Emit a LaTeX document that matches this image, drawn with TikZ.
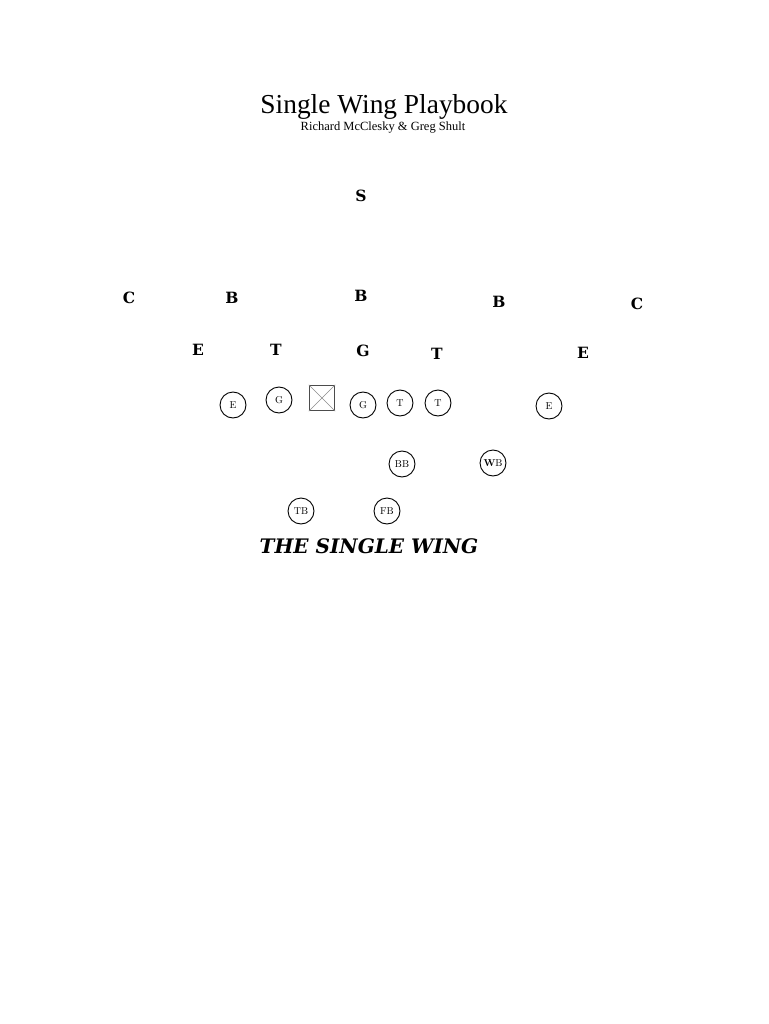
\documentclass[tikz,border=0pt]{standalone}
\usepackage{fontspec}
\newfontfamily\ttlfont{Liberation Serif}
\newfontfamily\defont{DejaVu Serif}
\begin{document}
\begin{tikzpicture}[x=1pt,y=-1pt,
  defender/.style={font=\defont\bfseries\fontsize{15.5}{16}\selectfont, inner sep=0pt},
  player/.style={draw, circle, line width=0.9pt, minimum size=26pt, inner sep=0pt, font=\fontsize{10}{10}\selectfont},
  center/.style={draw=black!70, line width=1.4pt, minimum size=25pt, inner sep=0pt},
  cross/.style={draw=black!45, line width=0.6pt}]
\useasboundingbox (0,0) rectangle (768,1024);
\fill[white] (0,0) rectangle (768,1024);
% titles
\node[font=\ttlfont\fontsize{27.4}{28}\selectfont] (title) at (384,107) {Single Wing Playbook};
\node[font=\ttlfont\fontsize{12.5}{13}\selectfont] (authors) at (383,128) {Richard McClesky \& Greg Shult};
% defense
\node[defender] (s) at (361,196) {S};
\node[defender] (c1) at (129,298) {C};
\node[defender] (b1) at (232,298) {B};
\node[defender] (b2) at (361,296) {B};
\node[defender] (b3) at (499,302) {B};
\node[defender] (c2) at (637,304) {C};
\node[defender] (e1) at (198,350) {E};
\node[defender] (t1) at (276,350) {T};
\node[defender] (g1) at (363,351) {G};
\node[defender] (t2) at (437,354) {T};
\node[defender] (e2) at (583,353) {E};
% offense
\node[player] (oe1) at (233,405) {E};
\node[player] (og1) at (279,400) {G};
\node[center] (oc) at (322,398) {};
\draw[cross] (oc.north west) -- (oc.south east) (oc.north east) -- (oc.south west);
\node[player] (og2) at (363,405) {G};
\node[player] (ot1) at (400,403) {T};
\node[player] (ot2) at (438,403) {T};
\node[player] (oe2) at (549,406) {E};
\node[player] (bb) at (402,464) {BB};
\node[player] (wb) at (493,463) {\textbf{W}B};
\node[player] (tb) at (301,511) {TB};
\node[player] (fb) at (387,511) {FB};
% caption
\node[font=\defont\bfseries\itshape\fontsize{20}{21}\selectfont] (cap) at (369,546) {THE SINGLE WING};
\end{tikzpicture}
\end{document}
